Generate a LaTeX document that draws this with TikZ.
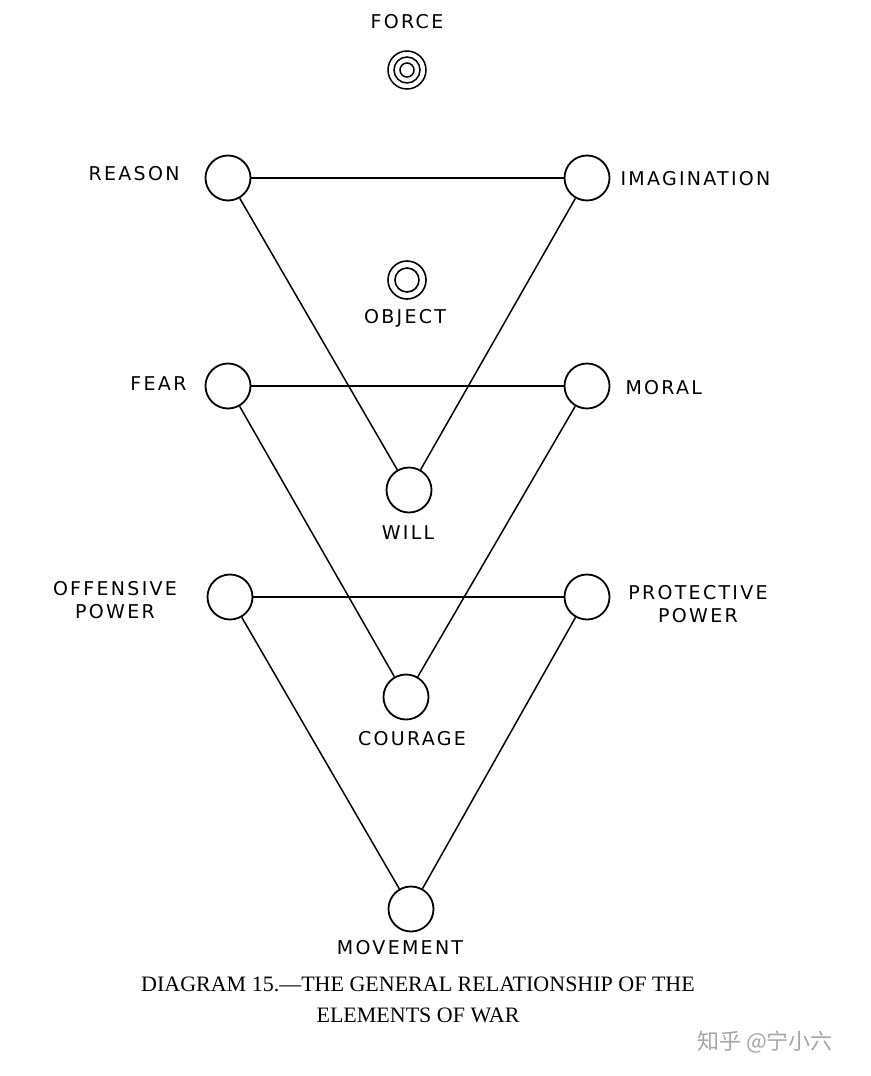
\documentclass[tikz,border=0pt]{standalone}
\usepackage{fontspec}
\setmainfont{Liberation Serif}
\newfontfamily\lab[LetterSpace=12]{DejaVu Sans}
\newfontfamily\cjk{Noto Sans CJK SC}
\begin{document}
\begin{tikzpicture}[x=1pt,y=-1pt,
  el/.style={circle,draw,line width=1.8pt,minimum size=45pt,inner sep=0pt,fill=white},
  lbl/.style={font=\lab\fontsize{19}{23}\selectfont},
  ln/.style={line width=1.5pt}]
\useasboundingbox (0,0) rectangle (870,1076);
\node[lbl] (tforce) at (407,22) {FORCE};
\foreach \r in {19,13,7} \draw[line width=1.5pt] (407,70) circle (\r);
\coordinate (force) at (407,70);
\node[el] (reason) at (228,178) {};
\node[el] (imag) at (587,178) {};
\node[el] (fear) at (228,386) {};
\node[el] (moral) at (587,386) {};
\node[el] (will) at (409,490) {};
\node[el] (off) at (230,597) {};
\node[el] (prot) at (587,597) {};
\node[el] (cour) at (406,697) {};
\node[el] (move) at (411,909) {};
\draw[ln] (reason) -- (imag); \draw[ln] (reason) -- (will); \draw[ln] (imag) -- (will);
\draw[ln] (fear) -- (moral); \draw[ln] (fear) -- (cour); \draw[ln] (moral) -- (cour);
\draw[ln] (off) -- (prot); \draw[ln] (off) -- (move); \draw[ln] (prot) -- (move);
\foreach \r in {19,12} \draw[line width=1.6pt,fill=white] (407,280) circle (\r);
\coordinate (object) at (407,280);
\node[lbl,anchor=east] at (183,174) {REASON};
\node[lbl,anchor=west] at (617,179) {IMAGINATION};
\node[lbl] at (405,318) {OBJECT};
\node[lbl,anchor=east] at (190,384) {FEAR};
\node[lbl,anchor=west] at (622,388) {MORAL};
\node[lbl] at (408,533) {WILL};
\node[lbl,align=center] at (115,600) {OFFENSIVE\\POWER};
\node[lbl,align=center] at (698,604) {PROTECTIVE\\POWER};
\node[lbl] at (412,739) {COURAGE};
\node[lbl] at (400,948) {MOVEMENT};
\node[font=\fontsize{22}{26}\selectfont] at (418,984) {DIAGRAM 15.---THE GENERAL RELATIONSHIP OF THE};
\node[font=\fontsize{22}{26}\selectfont] at (418,1015) {ELEMENTS OF WAR};
\node[font=\cjk\fontsize{22}{24}\selectfont,text=gray!70] at (765,1042) {知乎 @宁小六};
\end{tikzpicture}
\end{document}
